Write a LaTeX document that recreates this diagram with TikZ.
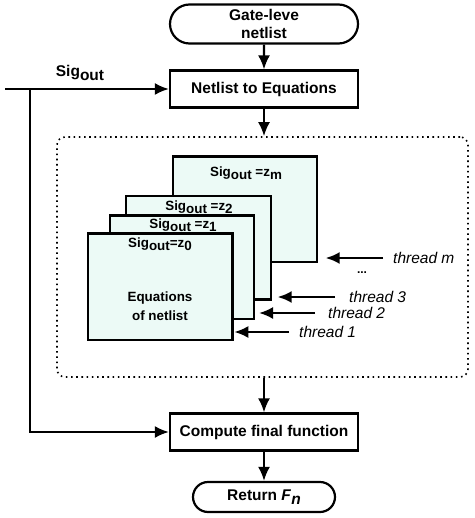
\documentclass[tikz,border=0pt]{standalone}
\usepackage{fontspec}
\setmainfont{Liberation Sans}
\usetikzlibrary{arrows.meta,shapes.misc,positioning}
\definecolor{stackfill}{RGB}{236,250,246}
\tikzset{
	proc/.style={draw, line width=2.2pt, minimum width=188pt, minimum height=37pt,
			font=\bfseries\fontsize{15.5}{18}\selectfont},
	term/.style={draw, rounded rectangle, line width=2.2pt, align=center, inner sep=0pt,
			font=\bfseries\fontsize{15.5}{18}\selectfont},
	sheet/.style={draw, fill=stackfill, line width=2.4pt, anchor=north west, inner sep=0pt, outer sep=0pt},
	thr/.style={font=\itshape\fontsize{15.5}{18}\selectfont, anchor=west, inner sep=0pt},
	lbl/.style={font=\bfseries\fontsize{13.4}{15}\selectfont, inner sep=0pt},
	flow/.style={-{Latex[length=14pt,width=12pt]}, line width=2.2pt}
}
\newcommand{\sgo}[1]{Sig\raisebox{-0.45ex}{out}#1}

\begin{document}
\begin{tikzpicture}[x=1pt,y=-1pt]
		\useasboundingbox (0,0) rectangle (474,518);
		
		% main flow
		\node[term, minimum width=188pt, minimum height=39pt] (gate) at (264,24) {Gate-leve\\netlist};
		\node[proc] (n2e) at (264,89) {Netlist to Equations};
		\node[draw, dotted, line width=1.6pt, dash pattern=on 1.6pt off 3.6pt, rounded corners=8pt,
			minimum width=411pt, minimum height=240pt] (par) at (262.5,257) {};
		\node[proc] (comp) at (264,432) {Compute final function};
		\node[term, minimum width=142pt, minimum height=30pt] (ret) at (264,497)
			{Return \textit{F}\raisebox{-0.45ex}{\textit{n}}};
		
		\draw[flow] (gate) -- (n2e);
		\draw[flow] (n2e) -- (n2e.south |- par.north);
		\draw[flow] (n2e.south |- par.south) -- (comp);
		\draw[flow] (comp) -- (ret);
		
		% input signal
		\coordinate (in) at (5,89);
		\coordinate (br) at (30,89);
		\node[font=\bfseries\fontsize{15.5}{18}\selectfont] (sig) at (80,73) {\sgo{}};
		\draw[flow] (in) -- (n2e.west);
		\draw[flow] (br) |- (comp.west);
		
		% stacked equation sheets
		\node[sheet, minimum width=144pt, minimum height=105pt] (zm) at (172.7,156.7) {};
		\node[sheet, minimum width=145pt, minimum height=103.3pt] (z2) at (125.7,196) {};
		\node[sheet, minimum width=144pt, minimum height=103.3pt] (z1) at (110,215.7) {};
		\node[sheet, minimum width=144.6pt, minimum height=106.7pt] (z0) at (87.7,233.3) {};
		\node[lbl] at (246,173) {\sgo{ =z\raisebox{-0.45ex}{m}}};
		\node[lbl] at (199,207) {\sgo{ =z\raisebox{-0.45ex}{2}}};
		\node[lbl] at (183,225) {\sgo{ =z\raisebox{-0.45ex}{1}}};
		\node[lbl] at (160,244) {\sgo{=z\raisebox{-0.45ex}{0}}};
		\node[lbl, align=center, font=\bfseries\fontsize{13.4}{19}\selectfont] at (160,306) {Equations\\of netlist};
		
		% threads
		\node[thr] (tm) at (393,258) {thread m};
		\node[font=\bfseries\fontsize{12}{13}\selectfont] (dots) at (362,273) {...};
		\node[thr] (t3) at (349,297) {thread 3};
		\node[thr] (t2) at (328,313) {thread 2};
		\node[thr] (t1) at (299,332) {thread 1};
		\draw[flow] ([xshift=-10pt]tm.west) -- ([xshift=9pt]tm.west -| zm.east);
		\draw[flow] ([xshift=-14pt]t3.west) -- ([xshift=7pt]t3.west -| z2.east);
		\draw[flow] ([xshift=-13pt]t2.west) -- ([xshift=5pt]t2.west -| z1.east);
		\draw[flow] ([xshift=-10pt]t1.west) -- ([xshift=2pt]t1.west -| z0.east);
	\end{tikzpicture}
\end{document}
